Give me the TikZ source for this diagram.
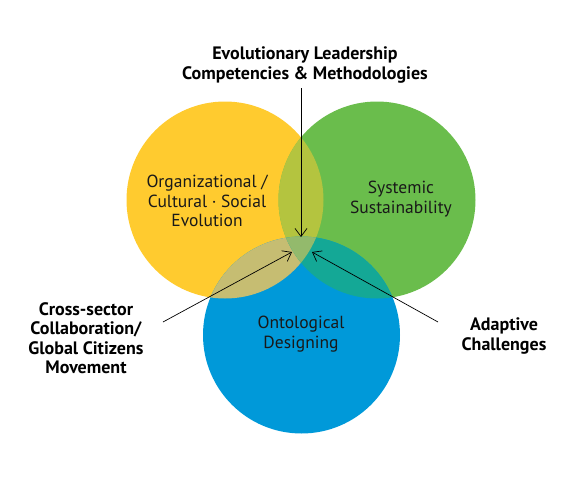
\documentclass[tikz,border=0pt]{standalone}
\usepackage{fontspec}
\setmainfont{PT Sans}
\usetikzlibrary{arrows.meta}
\definecolor{cyel}{HTML}{FFCB2F}
\definecolor{cgrn}{HTML}{6ABD4C}
\definecolor{cblu}{HTML}{0099D9}
\definecolor{cyg}{HTML}{B4C43F}
\definecolor{cyb}{HTML}{C6BD72}
\definecolor{cgb}{HTML}{14A896}
\definecolor{call}{HTML}{93BA6C}
\tikzset{
  lbl/.style={align=center, font=\fontsize{17.5}{19.5}\selectfont, text=black!90, inner sep=0pt},
  blbl/.style={align=center, font=\fontsize{18}{19.5}\selectfont\bfseries, text=black, inner sep=0pt},
  arr/.style={draw=black, line width=0.7pt, -{Straight Barb[length=8pt,width=12pt,line width=0.7pt]}},
}
\begin{document}
\begin{tikzpicture}[x=1pt,y=-1pt]
\useasboundingbox (0,0) rectangle (574,482);
\coordinate (Y) at (225,200);
\coordinate (G) at (377,200);
\coordinate (B) at (301.5,335);
\def\R{98.5}
\fill[cyel] (Y) circle (\R);
\fill[cgrn] (G) circle (\R);
\fill[cblu] (B) circle (\R);
\begin{scope}
  \clip (Y) circle (\R);
  \fill[cyg] (G) circle (\R);
  \fill[cyb] (B) circle (\R);
\end{scope}
\begin{scope}
  \clip (G) circle (\R);
  \fill[cgb] (B) circle (\R);
\end{scope}
\begin{scope}
  \clip (Y) circle (\R);
  \clip (G) circle (\R);
  \fill[call] (B) circle (\R);
\end{scope}
% labels
\node[blbl] (top) at (305,65) {Evolutionary Leadership\\Competencies \& Methodologies};
\node[lbl] (org) at (207,201) {Organizational /\\Cultural · Social\\Evolution};
\node[lbl] (sys) at (401,199) {Systemic\\Sustainability};
\node[lbl] (ont) at (301,334) {Ontological\\Designing};
\node[blbl] (cross) at (86,338) {Cross-sector\\Collaboration/\\Global Citizens\\Movement};
\node[blbl] (adapt) at (504,336) {Adaptive\\Challenges};
% arrows
\coordinate (tA) at (301,88);
\coordinate (tB) at (301,237);
\coordinate (lA) at (163,322);
\coordinate (lB) at (292,252);
\coordinate (rA) at (438,322);
\coordinate (rB) at (312,252);
\draw[arr] (tA) -- (tB);
\draw[arr] (lA) -- (lB);
\draw[arr] (rA) -- (rB);
\end{tikzpicture}
\end{document}
